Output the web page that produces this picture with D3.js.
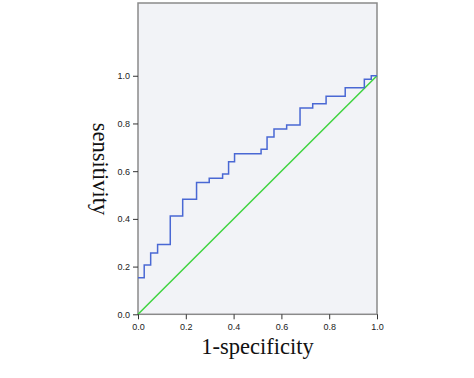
<!DOCTYPE html>
<html><head><meta charset="utf-8">
<script src="https://cdn.jsdelivr.net/npm/d3@7"></script>
<style>body{margin:0;background:#fff;}</style>
</head><body>
<script>
const fpr = [0.000,0.026,0.053,0.082,0.135,0.187,0.245,0.298,0.354,0.379,0.404,0.515,0.540,0.569,0.622,0.678,0.731,0.787,0.867,0.947,0.976,1.000];
const tpr = [0.153,0.207,0.257,0.293,0.412,0.482,0.553,0.570,0.588,0.640,0.673,0.692,0.743,0.777,0.794,0.865,0.883,0.914,0.950,0.985,1.000,1.000];
const refX = [0,1];
const refY = [0,1];
const tickVals = [0,0.2,0.4,0.6,0.8,1.0];
const xTitle = "1-specificity";
const yTitle = "sensitivity";

const W=474,H=378;
const L=138,R=377,T=3,B=314.3;
const svg=d3.select("body").append("svg").attr("width",W).attr("height",H);
const x=d3.scaleLinear().domain([0,1]).range([L,R]);
const y=d3.scaleLinear().domain([0,1.305]).range([B,T]);

svg.append("rect").attr("x",L).attr("y",T).attr("width",R-L).attr("height",B-T)
  .attr("fill","#f2f3f7").attr("stroke","#8a8a8a").attr("stroke-width",1.5);

const pts=[];
for(let i=0;i<fpr.length;i++){
  if(i>0) pts.push([fpr[i],tpr[i-1]]);
  pts.push([fpr[i],tpr[i]]);
}
const line=d3.line().x(d=>x(d[0])).y(d=>y(d[1]));

svg.append("path").datum(refX.map((v,i)=>[v,refY[i]])).attr("d",line)
  .attr("fill","none").attr("stroke","#3fd43f").attr("stroke-width",1.5);
svg.append("path").datum(pts).attr("d",line)
  .attr("fill","none").attr("stroke","#4a68d4").attr("stroke-width",1.5);

const xa=svg.append("g").attr("transform",`translate(0,${B})`)
  .call(d3.axisBottom(x).tickValues(tickVals).tickFormat(d3.format(".1f")).tickSize(5));
const ya=svg.append("g").attr("transform",`translate(${L},0)`)
  .call(d3.axisLeft(y).tickValues(tickVals).tickFormat(d3.format(".1f")).tickSize(5));
[xa,ya].forEach(g=>{
  g.select(".domain").remove();
  g.selectAll("line").attr("stroke","#333");
  g.selectAll("text").attr("fill","#222").style("font-family","Arial, 'Liberation Sans', sans-serif").style("font-size","9px");
});
ya.selectAll("text").attr("x",-8);
xa.selectAll("text").attr("y",9);

svg.append("text").attr("x",(L+R)/2).attr("y",354).attr("text-anchor","middle")
  .style("font-family","'Liberation Serif','Times New Roman',serif").style("font-size","22.5px").attr("fill","#111").text(xTitle);
svg.append("text").attr("transform",`translate(93,169) rotate(90)`).attr("text-anchor","middle")
  .style("font-family","'Liberation Serif','Times New Roman',serif").style("font-size","22.5px").attr("fill","#111").text(yTitle);
</script>
</body></html>
